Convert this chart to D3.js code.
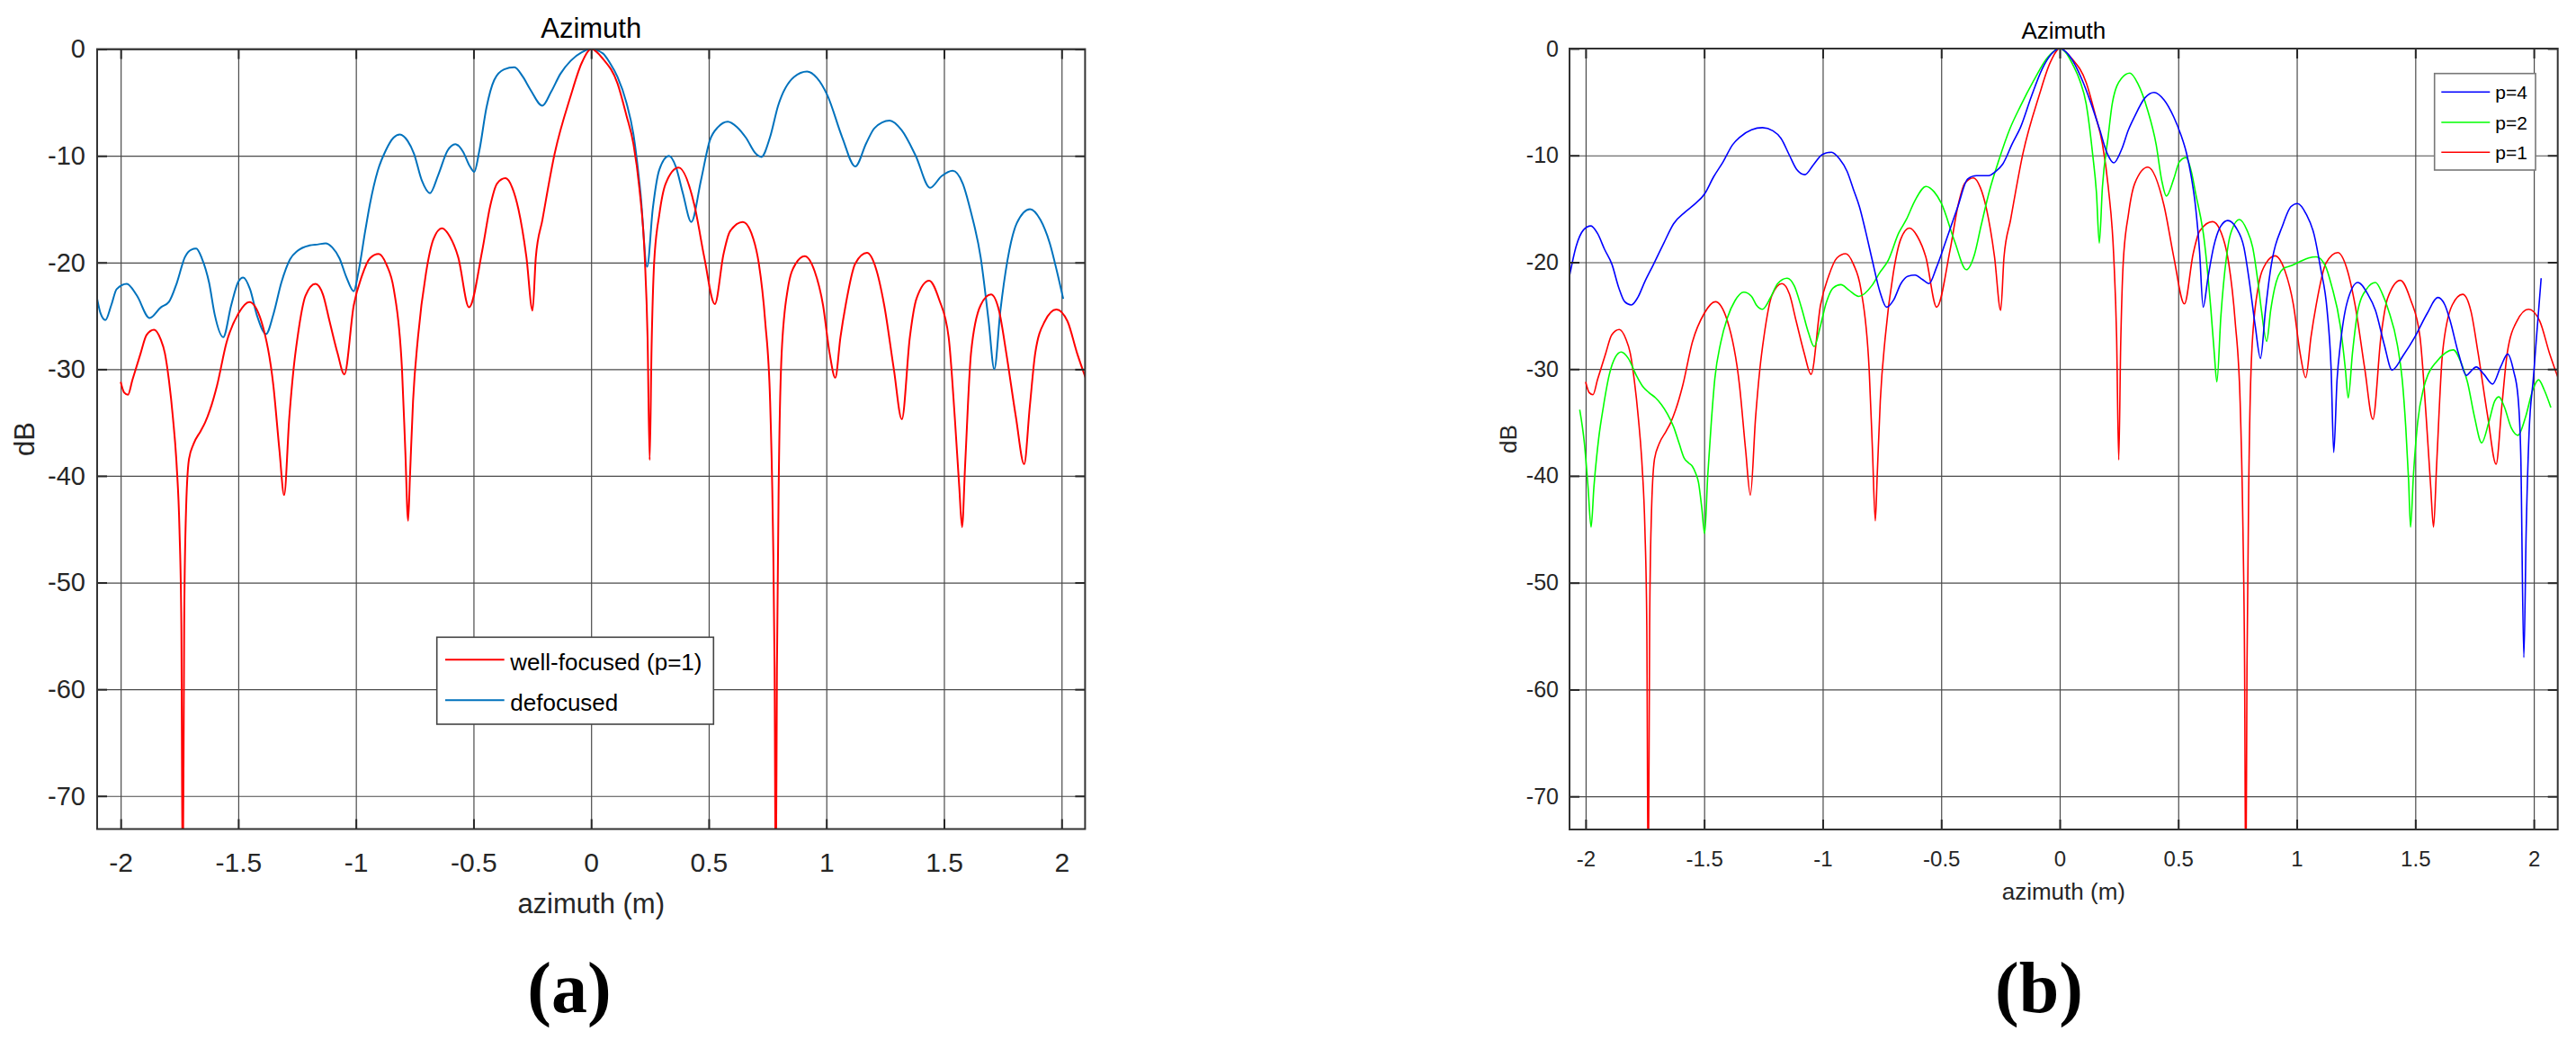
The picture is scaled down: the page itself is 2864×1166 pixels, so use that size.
<!DOCTYPE html>
<html><head><meta charset="utf-8">
<script src="https://cdn.jsdelivr.net/npm/d3@7"></script>
<style>body{margin:0;background:#fff}svg{display:block}</style>
</head><body>
<svg id="c" width="2864" height="1166"></svg>
<script>
// ---------------- data ----------------
const xTicks = [-2, -1.5, -1, -0.5, 0, 0.5, 1, 1.5, 2];
const yTicks = [-70, -60, -50, -40, -30, -20, -10, 0];
const titleText = "Azimuth";
const xLabel = "azimuth (m)";
const yLabel = "dB";
const legendA = ["well-focused (p=1)", "defocused"];
const legendB = ["p=4", "p=2", "p=1"];

// well-focused (p=1) response, [azimuth m, dB]
const wellFocused = [[-2.0,-31.2],[-1.985,-32.2],[-1.969,-32.4],[-1.95,-31.0],[-1.915,-28.5],[-1.89,-26.8],[-1.858,-26.3],[-1.83,-27.2],[-1.812,-28.5],[-1.795,-31.0],[-1.778,-34.5],[-1.762,-39],[-1.75,-45],[-1.742,-54],[-1.736,-80],[-1.73,-54],[-1.723,-44],[-1.71,-38.5],[-1.69,-37],[-1.66,-35.8],[-1.641,-35.0],[-1.62,-33.8],[-1.59,-31.5],[-1.55,-27.5],[-1.5,-24.8],[-1.453,-23.7],[-1.402,-25.5],[-1.351,-31.5],[-1.325,-37.6],[-1.305,-41.8],[-1.283,-34.5],[-1.265,-30],[-1.248,-27],[-1.214,-23.1],[-1.172,-22.0],[-1.14,-23.0],[-1.112,-25.5],[-1.078,-28.5],[-1.049,-30.5],[-1.009,-24.0],[-0.975,-21.3],[-0.94,-19.6],[-0.903,-19.2],[-0.87,-20.2],[-0.839,-22.5],[-0.804,-30],[-0.79,-37.6],[-0.778,-44.2],[-0.77,-40],[-0.757,-33],[-0.736,-27],[-0.702,-21],[-0.67,-17.8],[-0.634,-16.8],[-0.6,-17.6],[-0.565,-19.5],[-0.519,-24.2],[-0.463,-18.9],[-0.429,-14.7],[-0.4,-12.6],[-0.364,-12.1],[-0.335,-13],[-0.309,-15],[-0.275,-19.5],[-0.249,-24.5],[-0.235,-19.5],[-0.207,-16],[-0.155,-9.8],[-0.087,-4.4],[-0.04,-1.3],[0,0],[0.05,-0.9],[0.112,-3.2],[0.15,-6.2],[0.18,-8.9],[0.205,-13],[0.228,-19.5],[0.24,-27],[0.249,-38.5],[0.257,-28],[0.268,-20],[0.29,-15.5],[0.317,-12.6],[0.372,-11.1],[0.44,-14.7],[0.481,-19.5],[0.526,-23.9],[0.563,-19.2],[0.59,-17.1],[0.645,-16.2],[0.69,-17.8],[0.713,-20.1],[0.74,-25.5],[0.761,-33],[0.773,-45],[0.78,-58],[0.785,-80],[0.79,-58],[0.798,-40],[0.81,-28.5],[0.836,-22.5],[0.87,-20.1],[0.908,-19.4],[0.95,-20.8],[0.986,-24],[1.014,-28.5],[1.038,-30.8],[1.06,-27],[1.082,-24],[1.123,-20.1],[1.173,-19.1],[1.21,-20.5],[1.246,-24],[1.287,-30],[1.321,-34.7],[1.355,-27],[1.383,-23.4],[1.437,-21.7],[1.48,-23.5],[1.52,-27],[1.546,-34.5],[1.565,-41],[1.577,-44.8],[1.59,-39],[1.615,-28.5],[1.656,-24],[1.70,-23.0],[1.735,-24.6],[1.765,-28.5],[1.806,-34.5],[1.841,-38.9],[1.865,-33.5],[1.888,-28.5],[1.929,-25.5],[1.978,-24.4],[2.025,-25.5],[2.066,-28.5],[2.107,-31.1]];

// defocused response
const defocused = [[-2.1,-23.4],[-2.085,-24.8],[-2.065,-25.4],[-2.04,-24.0],[-2.017,-22.5],[-1.974,-22.0],[-1.931,-23.1],[-1.877,-25.2],[-1.829,-24.2],[-1.795,-23.7],[-1.761,-21.9],[-1.727,-19.5],[-1.7,-18.8],[-1.679,-18.7],[-1.655,-19.6],[-1.624,-21.9],[-1.6,-24.9],[-1.564,-27.0],[-1.53,-24.0],[-1.5,-21.8],[-1.479,-21.4],[-1.45,-22.5],[-1.42,-25.0],[-1.382,-26.7],[-1.35,-24.8],[-1.317,-21.9],[-1.28,-19.7],[-1.248,-18.9],[-1.197,-18.4],[-1.16,-18.3],[-1.129,-18.2],[-1.1,-18.6],[-1.07,-19.6],[-1.04,-21.4],[-1.009,-22.7],[-0.99,-21.0],[-0.96,-17.0],[-0.94,-14.5],[-0.907,-11.4],[-0.873,-9.5],[-0.84,-8.3],[-0.813,-8.0],[-0.78,-8.6],[-0.753,-9.8],[-0.72,-12.3],[-0.685,-13.5],[-0.65,-11.8],[-0.61,-9.5],[-0.577,-8.9],[-0.545,-9.6],[-0.515,-11.0],[-0.497,-11.5],[-0.475,-9.5],[-0.445,-5.5],[-0.412,-2.9],[-0.37,-1.9],[-0.326,-1.7],[-0.29,-2.6],[-0.258,-3.8],[-0.207,-5.3],[-0.17,-4.0],[-0.13,-2.3],[-0.087,-1.1],[-0.04,-0.3],[0,0],[0.05,-0.4],[0.08,-1.3],[0.112,-2.6],[0.15,-5.0],[0.18,-8.0],[0.21,-13.5],[0.238,-20.4],[0.262,-15],[0.29,-11.3],[0.331,-10.0],[0.36,-11.0],[0.39,-13.5],[0.426,-16.2],[0.467,-12.3],[0.504,-8.6],[0.54,-7.3],[0.581,-6.8],[0.62,-7.3],[0.658,-8.3],[0.7,-9.8],[0.724,-10.1],[0.76,-8.3],[0.795,-5.3],[0.863,-2.6],[0.918,-2.1],[0.96,-2.7],[1.004,-4.3],[1.068,-8.3],[1.123,-11.0],[1.17,-8.8],[1.205,-7.4],[1.269,-6.7],[1.32,-7.6],[1.38,-10.0],[1.441,-13.0],[1.49,-11.9],[1.537,-11.4],[1.58,-12.6],[1.615,-15.3],[1.656,-19.5],[1.69,-25.5],[1.714,-30.0],[1.74,-24.5],[1.77,-19.8],[1.81,-16.3],[1.866,-15.0],[1.91,-16.0],[1.95,-18.2],[1.98,-20.8],[2.007,-23.4]];

// p = 4 response
const p4 = [[-2.07,-21.5],[-2.04,-18.5],[-2.01,-17.0],[-1.978,-16.6],[-1.95,-17.3],[-1.92,-18.8],[-1.889,-20.2],[-1.86,-22.4],[-1.835,-23.7],[-1.807,-24.0],[-1.78,-23.3],[-1.75,-21.8],[-1.716,-20.3],[-1.67,-18.2],[-1.629,-16.4],[-1.58,-15.3],[-1.542,-14.6],[-1.498,-13.6],[-1.46,-12.0],[-1.42,-10.6],[-1.38,-9.0],[-1.35,-8.3],[-1.30,-7.6],[-1.254,-7.4],[-1.21,-7.7],[-1.176,-8.4],[-1.14,-10.0],[-1.11,-11.3],[-1.075,-11.8],[-1.04,-10.9],[-1.0,-9.9],[-0.963,-9.7],[-0.93,-10.3],[-0.897,-11.5],[-0.87,-13.2],[-0.845,-14.8],[-0.82,-17.0],[-0.793,-19.6],[-0.758,-22.8],[-0.731,-24.2],[-0.70,-23.5],[-0.67,-22.0],[-0.64,-21.3],[-0.61,-21.2],[-0.58,-21.6],[-0.551,-22.0],[-0.52,-20.5],[-0.48,-18.0],[-0.43,-14.8],[-0.388,-12.2],[-0.351,-11.9],[-0.30,-11.9],[-0.27,-11.5],[-0.24,-10.8],[-0.20,-8.9],[-0.166,-7.4],[-0.12,-4.5],[-0.074,-1.9],[-0.035,-0.5],[0,0],[0.045,-0.8],[0.092,-2.8],[0.13,-5.0],[0.166,-7.4],[0.20,-9.8],[0.228,-10.7],[0.26,-9.5],[0.29,-7.6],[0.315,-6.4],[0.36,-4.6],[0.398,-4.1],[0.44,-4.8],[0.481,-6.4],[0.51,-8.0],[0.536,-9.9],[0.555,-12],[0.573,-14.8],[0.59,-19],[0.605,-24.2],[0.625,-21.5],[0.65,-18.5],[0.68,-16.6],[0.709,-16.1],[0.745,-16.8],[0.777,-18.6],[0.80,-21.8],[0.825,-26],[0.847,-29.0],[0.868,-24.5],[0.888,-20.9],[0.943,-16.4],[0.975,-14.8],[1.003,-14.5],[1.04,-15.5],[1.073,-17.4],[1.10,-20.5],[1.128,-24.5],[1.145,-30],[1.156,-37.8],[1.17,-31],[1.184,-27.7],[1.212,-23.8],[1.258,-21.9],[1.30,-23.0],[1.332,-24.5],[1.369,-27.7],[1.402,-30.1],[1.45,-28.7],[1.498,-27.0],[1.55,-24.8],[1.595,-23.3],[1.625,-24.0],[1.646,-25.4],[1.683,-28.6],[1.716,-30.6],[1.735,-30.2],[1.757,-29.8],[1.79,-30.5],[1.826,-31.4],[1.86,-29.8],[1.89,-28.6],[1.915,-30.2],[1.933,-32.5],[1.945,-38],[1.958,-57.0],[1.968,-45],[1.98,-36],[1.998,-30.9],[2.015,-26],[2.031,-21.5]];

// p = 2 response
const p2 = [[-2.025,-33.8],[-2.005,-37],[-1.99,-41],[-1.977,-44.8],[-1.965,-41],[-1.945,-36.5],[-1.925,-33.5],[-1.9,-30.5],[-1.875,-28.9],[-1.85,-28.4],[-1.82,-29.0],[-1.786,-30.6],[-1.76,-31.6],[-1.733,-32.2],[-1.705,-32.7],[-1.681,-33.3],[-1.655,-34.2],[-1.629,-35.4],[-1.605,-37],[-1.585,-38.3],[-1.565,-38.8],[-1.55,-39.1],[-1.535,-39.8],[-1.524,-40.6],[-1.51,-43],[-1.498,-45.4],[-1.485,-40],[-1.47,-35],[-1.455,-30.9],[-1.43,-27.5],[-1.402,-25.2],[-1.37,-23.6],[-1.333,-22.8],[-1.30,-23.2],[-1.28,-24.0],[-1.254,-24.4],[-1.22,-23.3],[-1.19,-22.0],[-1.15,-21.5],[-1.12,-22.2],[-1.089,-24.3],[-1.06,-26.6],[-1.036,-27.9],[-1.01,-26],[-0.985,-23.8],[-0.955,-22.4],[-0.923,-22.1],[-0.89,-22.6],[-0.848,-23.2],[-0.793,-22.2],[-0.76,-21.0],[-0.723,-19.8],[-0.68,-17.3],[-0.647,-16.0],[-0.61,-14.2],[-0.564,-12.9],[-0.53,-13.4],[-0.499,-14.5],[-0.444,-18.0],[-0.394,-20.7],[-0.36,-19.3],[-0.333,-16.7],[-0.295,-13.2],[-0.259,-10.6],[-0.21,-7.5],[-0.166,-5.4],[-0.11,-3.0],[-0.05,-0.8],[0,0],[0.03,-0.5],[0.055,-1.5],[0.085,-3.0],[0.111,-5.1],[0.139,-9.9],[0.155,-13.5],[0.167,-18.2],[0.18,-13],[0.204,-8.3],[0.222,-5.1],[0.26,-2.8],[0.296,-2.3],[0.33,-3.3],[0.37,-5.7],[0.407,-9.0],[0.43,-12.3],[0.45,-13.8],[0.481,-12.2],[0.505,-10.6],[0.533,-10.2],[0.555,-11.5],[0.573,-13.5],[0.61,-18],[0.638,-24.5],[0.652,-28.5],[0.663,-31.2],[0.68,-25],[0.703,-19.6],[0.72,-17.4],[0.758,-16.0],[0.79,-17.0],[0.814,-18.6],[0.84,-22.5],[0.851,-24.5],[0.873,-27.4],[0.89,-24.5],[0.906,-22.5],[0.943,-20.6],[0.98,-20.3],[1.017,-19.9],[1.05,-19.6],[1.082,-19.5],[1.12,-20.3],[1.147,-22.2],[1.184,-26],[1.205,-30],[1.217,-32.7],[1.235,-28.5],[1.258,-24.5],[1.295,-22.5],[1.332,-21.9],[1.362,-23.0],[1.387,-24.5],[1.424,-27.7],[1.445,-31],[1.46,-35.5],[1.472,-40.5],[1.48,-44.8],[1.492,-40],[1.51,-35],[1.535,-31.8],[1.554,-30.5],[1.59,-29.3],[1.66,-28.2],[1.695,-29.5],[1.72,-31.2],[1.75,-34.5],[1.78,-36.9],[1.81,-35],[1.835,-33],[1.853,-32.6],[1.875,-33.5],[1.905,-35.5],[1.933,-36.2],[1.965,-34.5],[1.995,-32],[2.02,-31.0],[2.045,-32],[2.072,-33.6]];

// p = 1 is the well-focused response
const p1 = wellFocused;

// ---------------- drawing ----------------
const svg = d3.select("#c");
const FONT = "'Liberation Sans', Arial, Helvetica, sans-serif";
const AX = "#262626";

function panel(cfg) {
  const x = d3.scaleLinear().domain(cfg.xd).range([cfg.l, cfg.r]);
  const y = d3.scaleLinear().domain([-73.1, 0]).range([cfg.b, cfg.t]);
  const g = svg.append("g");
  const W = cfg.r - cfg.l, H = cfg.b - cfg.t;

  svg.append("clipPath").attr("id", "clip" + cfg.name)
    .append("rect").attr("x", cfg.l).attr("y", cfg.t).attr("width", W).attr("height", H);

  // grid
  g.append("g").attr("transform", `translate(0,${cfg.b})`)
    .call(d3.axisBottom(x).tickValues(xTicks).tickSize(-H).tickFormat(""))
    .call(s => { s.select(".domain").remove(); s.selectAll("line").attr("stroke", "#4a4a4a").attr("stroke-width", 1.2); });
  g.append("g").attr("transform", `translate(${cfg.l},0)`)
    .call(d3.axisLeft(y).tickValues(yTicks).tickSize(-W).tickFormat(""))
    .call(s => { s.select(".domain").remove(); s.selectAll("line").attr("stroke", "#4a4a4a").attr("stroke-width", 1.2); });

  // curves
  const line = d3.line().x(d => x(d[0])).y(d => y(d[1])).curve(d3.curveMonotoneX);
  cfg.series.forEach(s => {
    g.append("path").datum(s.data).attr("clip-path", `url(#clip${cfg.name})`)
      .attr("fill", "none").attr("stroke", s.color).attr("stroke-width", cfg.lw)
      .attr("stroke-linejoin", "round").attr("d", line);
  });

  // axes with labels
  const styleAxis = (s, fs) => {
    s.select(".domain").remove();
    s.selectAll("line").attr("stroke", AX).attr("stroke-width", 2);
    s.attr("font-family", FONT).attr("font-size", fs);
    s.selectAll("text").attr("fill", AX);
  };
  g.append("g").attr("transform", `translate(${cfg.l},0)`)
    .call(d3.axisLeft(y).tickValues(yTicks).tickSize(-11).tickPadding(cfg.yPad).tickFormat(d => String(d)))
    .call(s => styleAxis(s, cfg.yfs));
  g.append("g").attr("transform", `translate(${cfg.r},0)`)
    .call(d3.axisRight(y).tickValues(yTicks).tickSize(-11).tickFormat(""))
    .call(s => styleAxis(s, cfg.yfs));
  g.append("g").attr("transform", `translate(0,${cfg.b})`)
    .call(d3.axisBottom(x).tickValues(xTicks).tickSize(-11).tickPadding(cfg.xPad).tickFormat(d => String(d)))
    .call(s => styleAxis(s, cfg.xfs));
  g.append("g").attr("transform", `translate(0,${cfg.t})`)
    .call(d3.axisTop(x).tickValues(xTicks).tickSize(-11).tickFormat(""))
    .call(s => styleAxis(s, cfg.xfs));

  // box
  g.append("rect").attr("x", cfg.l).attr("y", cfg.t).attr("width", W).attr("height", H)
    .attr("fill", "none").attr("stroke", "#333").attr("stroke-width", 2);

  // title & labels
  g.append("text").attr("x", (cfg.l + cfg.r) / 2).attr("y", cfg.titleY).attr("text-anchor", "middle")
    .attr("font-family", FONT).attr("font-size", cfg.tfs).attr("fill", "#000").text(titleText);
  g.append("text").attr("x", (cfg.l + cfg.r) / 2).attr("y", cfg.xlabY).attr("text-anchor", "middle")
    .attr("font-family", FONT).attr("font-size", cfg.lfs).attr("fill", AX).text(xLabel);
  g.append("text").attr("transform", `translate(${cfg.ylabX},${(cfg.t + cfg.b) / 2}) rotate(-90)`).attr("text-anchor", "middle")
    .attr("font-family", FONT).attr("font-size", cfg.lfs).attr("fill", AX).text(yLabel);
  g.append("text").attr("x", cfg.capX).attr("y", 1125).attr("text-anchor", "middle")
    .attr("font-family", "'Liberation Serif', 'Times New Roman', serif").attr("font-weight", "bold")
    .attr("font-size", 80).attr("fill", "#000").text(cfg.cap);

  // legend
  const L = cfg.legend;
  const lg = g.append("g");
  lg.append("rect").attr("x", L.x0).attr("y", L.y0).attr("width", L.x1 - L.x0).attr("height", L.y1 - L.y0)
    .attr("fill", "#fff").attr("stroke", L.stroke).attr("stroke-width", 1.6);
  L.items.forEach((it, i) => {
    const yy = L.ys[i];
    lg.append("line").attr("x1", L.lx0).attr("x2", L.lx1).attr("y1", yy).attr("y2", yy)
      .attr("stroke", it.color).attr("stroke-width", cfg.lw);
    lg.append("text").attr("x", L.tx).attr("y", yy + L.dy).attr("font-family", FONT)
      .attr("font-size", L.fs).attr("fill", "#000").text(it.label);
  });
}

panel({
  name: "A", xd: [-2.1, 2.1], l: 108, r: 1206.4, t: 54.6, b: 921.5, lw: 2,
  yPad: 13, xPad: 26, yfs: 29, xfs: 30, tfs: 31, lfs: 31,
  titleY: 42, xlabY: 1015, ylabX: 38, capX: 633, cap: "(a)",
  series: [{ data: defocused, color: "#0072BD" }, { data: wellFocused, color: "#FF0000" }],
  legend: {
    x0: 485.7, x1: 793.3, y0: 708.3, y1: 805, lx0: 495, lx1: 560.7, tx: 567.3, ys: [733.3, 778.3], dy: 11.5, fs: 26,
    stroke: "#444",
    items: [{ label: legendA[0], color: "#FF0000" }, { label: legendA[1], color: "#0072BD" }]
  }
});

panel({
  name: "B", xd: [-2.068, 2.101], l: 1745, r: 2843.7, t: 54, b: 922, lw: 1.6,
  yPad: 12, xPad: 24, yfs: 25, xfs: 24, tfs: 26, lfs: 26,
  titleY: 43, xlabY: 1000, ylabX: 1686, capX: 2267, cap: "(b)",
  series: [{ data: p1, color: "#FF0000" }, { data: p2, color: "#00FF00" }, { data: p4, color: "#0000FF" }],
  legend: {
    x0: 2706.7, x1: 2819, y0: 81.7, y1: 189, lx0: 2714.3, lx1: 2768.3, tx: 2774.3, ys: [102.3, 136, 169.3], dy: 7.7, fs: 21,
    stroke: "#777",
    items: [{ label: legendB[0], color: "#0000FF" }, { label: legendB[1], color: "#00FF00" }, { label: legendB[2], color: "#FF0000" }]
  }
});
</script>
</body></html>
